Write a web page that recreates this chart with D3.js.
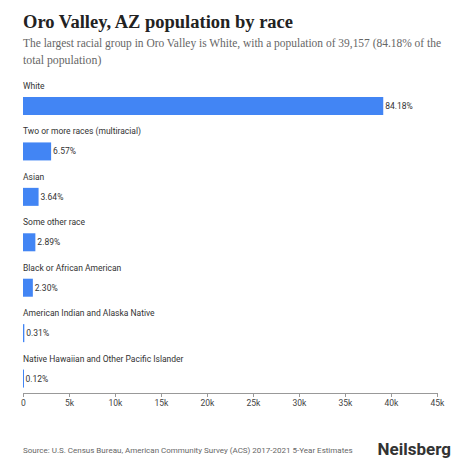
<!DOCTYPE html>
<html><head><meta charset="utf-8">
<script src="https://cdn.jsdelivr.net/npm/d3@7"></script>
<style>body{margin:0;background:#fff}</style></head>
<body><svg id="c" width="474" height="474"></svg>
<script>
const categories=["White","Two or more races (multiracial)","Asian","Some other race","Black or African American","American Indian and Alaska Native","Native Hawaiian and Other Pacific Islander"];
const values=[39157,3056,1693,1344,1070,144,56];
const pctLabels=["84.18%","6.57%","3.64%","2.89%","2.30%","0.31%","0.12%"];
const ticks=[0,5000,10000,15000,20000,25000,30000,35000,40000,45000];
const svg=d3.select("#c");
svg.append("text").attr("x",23).attr("y",28).attr("font-family","Liberation Serif, serif").attr("font-weight","bold").attr("font-size",18.5).attr("fill","#222").text("Oro Valley, AZ population by race");
const sub=["The largest racial group in Oro Valley is White, with a population of 39,157 (84.18% of the","total population)"];
sub.forEach((s,i)=>{const t=svg.append("text").attr("x",23).attr("y",47+i*17).attr("font-family","Liberation Serif, serif").attr("font-size",11.8).attr("fill","#666").text(s);
  if(i===0){t.attr("textLength",418).attr("lengthAdjust","spacingAndGlyphs");}});
const x=d3.scaleLinear().domain([0,45000]).range([23,437]);
const y=d3.scaleBand().domain(categories).range([80,398]).paddingInner(0);
const g=svg.append("g");
categories.forEach((c,i)=>{
  const y0=y(c);
  g.append("text").attr("x",23).attr("y",y0+9).attr("font-family","Roboto, sans-serif").attr("font-size",8.5).attr("fill","#333").text(c);
  g.append("rect").attr("x",x(0)).attr("y",y0+17).attr("width",Math.max(1,x(values[i])-x(0))).attr("height",18).attr("fill","#4285f4");
  g.append("text").attr("x",x(values[i])+2).attr("y",y0+29).attr("font-family","Roboto, sans-serif").attr("font-size",8.5).attr("fill","#333").text(pctLabels[i]);
});
const ax=svg.append("g").attr("transform","translate(0,393)").call(d3.axisBottom(x).tickValues(ticks).tickFormat(d=>d===0?"0":(d/1000)+"k").tickSize(4));
ax.select(".domain").attr("stroke","#999");
ax.selectAll("line").attr("stroke","#999");
ax.selectAll("text").attr("font-family","Roboto, sans-serif").attr("font-size",8.5).attr("fill","#444");
svg.append("text").attr("x",23).attr("y",453).attr("font-family","Roboto, sans-serif").attr("font-size",8).attr("fill","#666").text("Source: U.S. Census Bureau, American Community Survey (ACS) 2017-2021 5-Year Estimates");
svg.append("text").attr("x",451).attr("y",455).attr("text-anchor","end").attr("font-family","Roboto, sans-serif").attr("font-weight","bold").attr("font-size",17).attr("fill","#333").text("Neilsberg");
</script></body></html>
